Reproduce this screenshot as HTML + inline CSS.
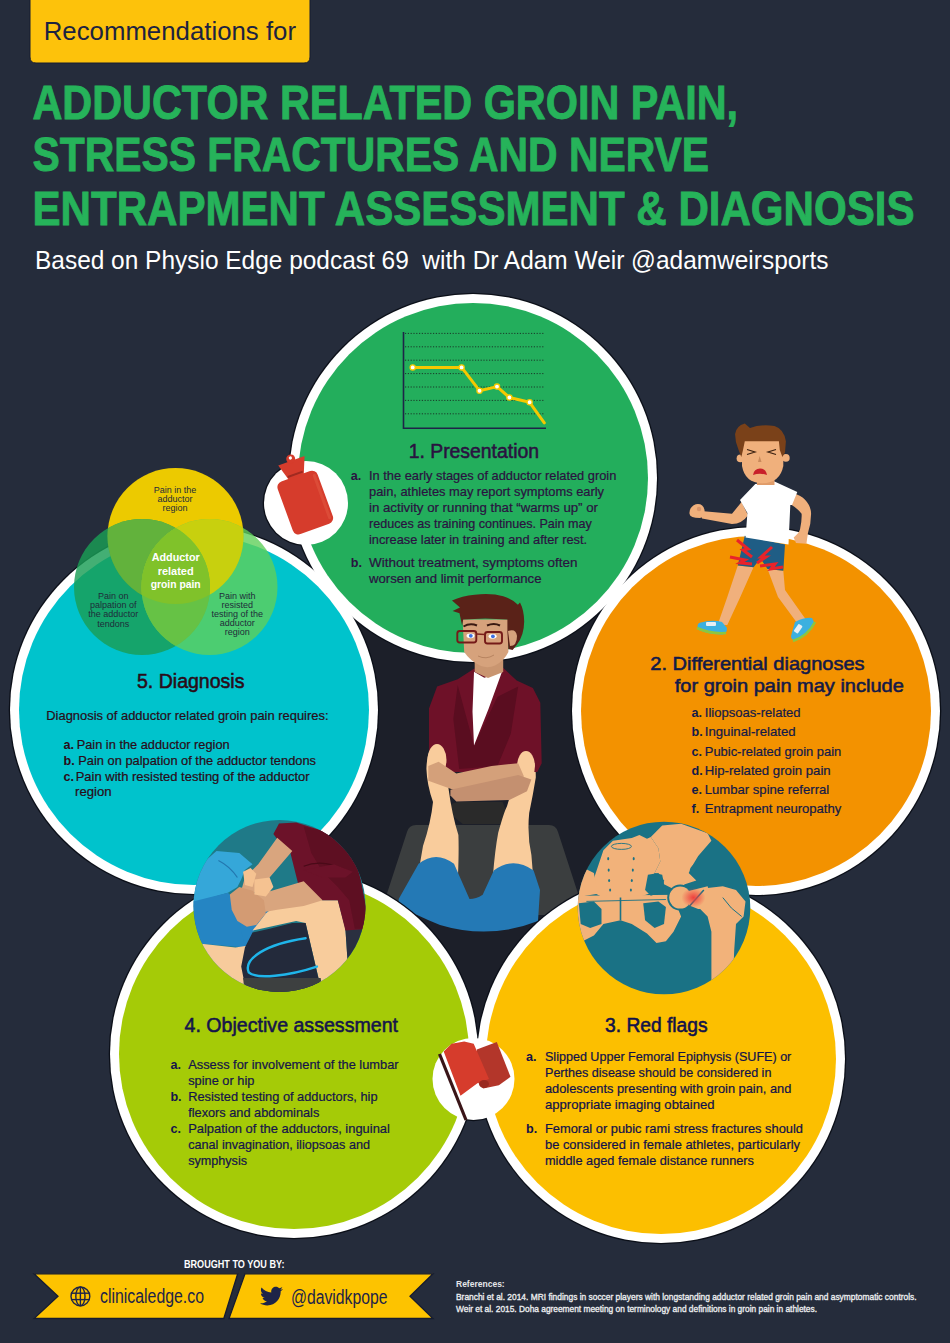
<!DOCTYPE html>
<html><head><meta charset="utf-8">
<style>
html,body{margin:0;padding:0;background:#252c3b;}
body{width:950px;height:1343px;overflow:hidden;}
svg{display:block;font-family:"Liberation Sans", sans-serif;}
</style></head><body>
<svg width="950" height="1343" viewBox="0 0 950 1343">
<rect x="0" y="0" width="950" height="1343" fill="#252c3b"/>
<polygon points="473,478 756,711 661,1059 294,1054 194,710" fill="#1c1f29"/>
<path d="M416,825 H549 Q556,825 558,832 L585,915 H380 L407,832 Q409,825 416,825 Z" fill="#3b3e3f"/><polygon points="450.7,804.1 458.4,801.9 502.6,801.9 507.0,813.0 500.4,824.0 462.8,824.0 451.8,815.2" fill="#2a2a2a"/><path d="M436.3,744.4 Q427,748 426.4,768.7 Q427,785 433,801.9 Q431,822 423,846.1 L418,875 L458,875 Q459,850 458.4,835 Q452,815 448.5,788.6 Q448,760 445.2,748.8 Q441,743 436.3,744.4 Z" fill="#f9cc9c"/><path d="M527,752.2 Q536,758 535.8,777.6 Q533,795 529.2,813 Q527,835 531.4,855 L533,875 L493,875 Q495,850 498.2,832.8 Q504,812 507,806.3 Q514,784 516,765 Q520,752 527,752.2 Z" fill="#f9cc9c"/><path d="M398.7,899 L418.6,863.8 Q436,850 454,863.8 L469.5,899 Q476,899 482.7,894.7 L493.8,870.4 Q513,856 533.6,870.4 L540,890 L538,921 Q490,940 440,925 Q415,915 398.7,905 Z" fill="#2479b5"/><circle cx="473" cy="478" r="185.3" fill="#0b0f18"/>
<circle cx="756" cy="711" r="185.3" fill="#0b0f18"/>
<circle cx="661" cy="1059" r="185.3" fill="#0b0f18"/>
<circle cx="294" cy="1054" r="185.3" fill="#0b0f18"/>
<circle cx="194" cy="710" r="185.3" fill="#0b0f18"/>
<circle cx="306" cy="503" r="43.3" fill="#0b0f18"/><circle cx="473.5" cy="1079" r="42.3" fill="#0b0f18"/><circle cx="473" cy="478" r="184" fill="#ffffff"/>
<circle cx="756" cy="711" r="184" fill="#ffffff"/>
<circle cx="661" cy="1059" r="184" fill="#ffffff"/>
<circle cx="294" cy="1054" r="184" fill="#ffffff"/>
<circle cx="194" cy="710" r="184" fill="#ffffff"/>
<circle cx="473" cy="478" r="175" fill="#23ae5c"/>
<circle cx="756" cy="711" r="175" fill="#f39200"/>
<circle cx="661" cy="1059" r="175" fill="#fcbf00"/>
<circle cx="294" cy="1054" r="175" fill="#a5cb07"/>
<circle cx="194" cy="710" r="175" fill="#00c3cc"/>
<g id="chart"><line x1="405" y1="333.4" x2="545" y2="333.4" stroke="#1b3a2a" stroke-width="1" stroke-dasharray="1.2 1.6"/><line x1="405" y1="346.8" x2="545" y2="346.8" stroke="#1b3a2a" stroke-width="1" stroke-dasharray="1.2 1.6"/><line x1="405" y1="360.2" x2="545" y2="360.2" stroke="#1b3a2a" stroke-width="1" stroke-dasharray="1.2 1.6"/><line x1="405" y1="373.6" x2="545" y2="373.6" stroke="#1b3a2a" stroke-width="1" stroke-dasharray="1.2 1.6"/><line x1="405" y1="387" x2="545" y2="387" stroke="#1b3a2a" stroke-width="1" stroke-dasharray="1.2 1.6"/><line x1="405" y1="400.4" x2="545" y2="400.4" stroke="#1b3a2a" stroke-width="1" stroke-dasharray="1.2 1.6"/><line x1="405" y1="413.8" x2="545" y2="413.8" stroke="#1b3a2a" stroke-width="1" stroke-dasharray="1.2 1.6"/><line x1="403.5" y1="332" x2="403.5" y2="429" stroke="#1e2448" stroke-width="1.6"/><line x1="403" y1="428.2" x2="546" y2="428.2" stroke="#1e2448" stroke-width="1.6"/><polyline points="412.7,367.4 461.6,367.4 479.5,390.7 497,386.6 509.4,397.5 529.6,402.3 544.3,422.9" fill="none" stroke="#f5c800" stroke-width="3" stroke-linejoin="round" stroke-linecap="round"/><circle cx="412.7" cy="367.4" r="2.6" fill="#ffffff" stroke="#f5c800" stroke-width="1.3"/><circle cx="461.6" cy="367.4" r="2.6" fill="#ffffff" stroke="#f5c800" stroke-width="1.3"/><circle cx="479.5" cy="390.7" r="2.6" fill="#ffffff" stroke="#f5c800" stroke-width="1.3"/><circle cx="497" cy="386.6" r="2.6" fill="#ffffff" stroke="#f5c800" stroke-width="1.3"/><circle cx="509.4" cy="397.5" r="2.6" fill="#ffffff" stroke="#f5c800" stroke-width="1.3"/><circle cx="529.6" cy="402.3" r="2.6" fill="#ffffff" stroke="#f5c800" stroke-width="1.3"/></g>
<g id="venn"><circle cx="175.5" cy="536" r="68" fill="#ecca00"/><circle cx="142" cy="587" r="68" fill="#1a9e55" fill-opacity="0.82"/><circle cx="209.5" cy="587" r="68" fill="#5fd05a" fill-opacity="0.80"/><clipPath id="cY"><circle cx="175.5" cy="536" r="68"/></clipPath><clipPath id="cL"><circle cx="142" cy="587" r="68"/></clipPath><clipPath id="cR"><circle cx="209.5" cy="587" r="68"/></clipPath><g clip-path="url(#cY)"><circle cx="142" cy="587" r="68" fill="#62b23c"/><circle cx="209.5" cy="587" r="68" fill="#c8d00e"/></g><g clip-path="url(#cL)"><g clip-path="url(#cR)"><rect x="100" y="500" width="160" height="200" fill="#66c245"/><g clip-path="url(#cY)"><rect x="100" y="500" width="160" height="200" fill="#80c22a"/></g></g></g></g>
<circle cx="306" cy="503" r="42" fill="#ffffff"/><g transform="translate(305.5,502.5) rotate(-20)"><polygon points="-8,-27 8,-27 15,-44 -13,-44" fill="#d63c2c"/><rect x="-8" y="-31" width="16" height="2" fill="#a02a20"/><circle cx="1" cy="-46" r="4.5" fill="#d63c2c"/><circle cx="1" cy="-47" r="1.6" fill="#fff"/><rect x="-21.5" y="-28" width="42.5" height="56" rx="6" fill="#d63c2c"/><rect x="16" y="-24" width="3" height="48" rx="1.5" fill="#e0553f" opacity="0.6"/></g>
<circle cx="473.5" cy="1079" r="41" fill="#ffffff"/><line x1="439.5" y1="1054" x2="466" y2="1120" stroke="#3a1518" stroke-width="3.2"/><polygon points="476.8,1049.5 496.8,1042.1 510.5,1076.8 498.9,1085.3 483.2,1088.4 478.4,1083" fill="#b3362a"/><polygon points="443.7,1051.6 451.6,1043.7 464.2,1041.6 473.7,1043.7 489,1079 477.4,1083.2 460.5,1095.8" fill="#d63c2c"/><ellipse cx="484" cy="1084" rx="5" ry="4" fill="#9a2a20"/>

<polygon points="429.0,708.6 437.1,686.5 457.7,679.2 474.0,668.8 503.4,668.1 516.7,680.6 532.9,688.0 540.3,702.7 541.7,763.2 537.3,772.0 429.0,772.0" fill="#6e1128"/><polygon points="457.7,685.0 474.0,745.5 497.5,696.8 518.2,686.5 510.8,733.7 497.5,766.0 459.2,769.0 453.3,719.0" fill="#5a0d20"/><polygon points="474.0,671.8 484.3,677.7 502.0,671.8 488.7,708.6 474.0,745.5 472.5,711.6" fill="#ffffff"/><ellipse cx="437" cy="760" rx="9.5" ry="16" fill="#f9cc9c"/><ellipse cx="526" cy="766" rx="9" ry="15" fill="#f9cc9c"/><polygon points="428.3,766.0 438.6,761.7 456.3,773.5 491.6,766.0 518.2,763.2 524.0,776.4 496.0,788.2 453.3,789.7 428.3,780.8" fill="#d4a07a"/><polygon points="450.4,789.7 518.2,775.0 531.4,779.4 527.0,791.2 509.3,800.0 456.3,801.5 450.4,795.6" fill="#c49070"/><polygon points="474.7,660.0 503.2,660.0 503.2,672.0 488.0,678.0 474.7,672.0" fill="#c99570"/><path d="M462.6,619.5 H508.4 L508.4,652 Q504,661 495,665.5 Q488,668.5 481,666 Q470,661 464.2,652 Z" fill="#d6a27c"/><path d="M452,600.5 Q462,596 474.7,594.7 Q492,593 503.2,596.3 Q512,599 517.9,604.7 L520,602.5 Q524,610 524.2,621.6 Q524,636 516.8,644.7 L512.6,650 L508.4,649 L507.4,632 L507.4,619.5 L485.3,618.4 L463.2,619.5 L462.1,625.8 L459.5,613.2 L452.6,611 L460,607.4 Z" fill="#5a2218"/><path d="M508,631 Q516,628 517,636 Q517,646 510,646 Z" fill="#d6a27c"/><path d="M463.5,626.5 Q470,622.5 477,625.5" stroke="#3a1a12" stroke-width="2" fill="none"/><path d="M487,625.5 Q494,622.5 500,625.5" stroke="#3a1a12" stroke-width="2" fill="none"/><ellipse cx="470.5" cy="635.8" rx="4" ry="2.4" fill="#fff"/><circle cx="470.8" cy="635.8" r="1.9" fill="#3d6fe0"/><ellipse cx="492.6" cy="636.3" rx="4" ry="2.4" fill="#fff"/><circle cx="492.9" cy="636.3" r="1.9" fill="#3d6fe0"/><rect x="457.3" y="631" width="19" height="11.5" rx="2.5" fill="none" stroke="#741a18" stroke-width="1.9"/><rect x="485" y="632" width="17" height="11.5" rx="2.5" fill="none" stroke="#741a18" stroke-width="1.9"/><line x1="476.3" y1="634" x2="485" y2="634.5" stroke="#7b1f1a" stroke-width="1.4"/><path d="M478,656 Q486,660 494,655" stroke="#b88460" stroke-width="1" fill="none"/>
<polygon points="737.8,565.5 753.5,567.3 739.5,598.8 727.3,625.0 717.6,625.0 727.3,597.0" fill="#f0b07c"/><polygon points="767.5,569.0 783.3,570.8 785.0,590.0 806.0,619.8 797.3,623.3 778.0,597.0" fill="#f0b07c"/><path d="M699,623 Q712,619 722,622 L727,628 Q727,634 722,634.5 Q708,634 699,630 Q696,626 699,623 Z" fill="#3bb0e0"/><path d="M697,628 Q710,634 726,633" stroke="#8dc63f" stroke-width="2.5" fill="none"/><rect x="706" y="622" width="10" height="4" rx="1" fill="#e6eef2"/><path d="M795,622 Q805,617 812,618 L815,624 Q808,634 797,640 Q791,641 791,636 Z" fill="#3bb0e0"/><path d="M815,622 Q808,636 793,641" stroke="#8dc63f" stroke-width="2.5" fill="none"/><rect x="796" y="624" width="5" height="9" rx="1" transform="rotate(35 798 628)" fill="#e6eef2"/><polygon points="744.8,535.8 785.0,544.5 783.3,570.8 767.5,569.0 760.5,558.5 753.5,567.3 737.8,565.5" fill="#1f5d85"/><path d="M741.6,502 L748,515.3 Q742,524 732,524 L702,518.4 L700,511 L703.7,511.3 L732,513.7 Z" fill="#f0b07c"/><path d="M695.8,504.2 Q703,503 704.5,510 Q705,517 700,518 Q690,518 689.5,513.7 Q689,507 695.8,504.2 Z" fill="#f0b07c"/><circle cx="699" cy="509" r="2.2" fill="#d9956a"/><path d="M792.2,493.2 Q801,495 804.8,499.5 Q811,506 811.1,513.7 Q811,524 808,532.7 L806.4,543.7 L796,543 L793.7,537.4 Q799,533 800,529.5 Q802,520 801.6,513.7 Q797,508 790.6,504.2 Z" fill="#f0b07c"/><polygon points="740.0,500.0 755.3,484.1 774.5,481.5 797.3,492.0 792.0,505.0 790.3,505.0 788.5,544.5 745.6,537.5 747.4,513.0" fill="#ffffff"/><polygon points="757.0,476.0 774.5,476.0 774.5,485.0 757.0,485.0" fill="#e09c6a"/><path d="M742,441 H783.3 V466 Q780,483 762.3,483.3 Q745,483 742,466 Z" fill="#f0b07c"/><circle cx="740.4" cy="458.4" r="3.8" fill="#f0b07c"/><circle cx="785.9" cy="457.9" r="3.8" fill="#f0b07c"/><path d="M735.1,434 Q736,426 744.8,423.5 L750,428.1 Q760,424 774.5,426 Q784,429 785.9,441.3 L785,452.6 L782.4,457 L779.8,450 L778.9,441.3 H744.8 L743,450 L741.3,457 L738.6,450 Q735,442 735.1,434 Z" fill="#7a4119"/><path d="M747,449.5 L755,452 L747,454.5 M776,449.5 L768,452 L776,454.5" stroke="#3a2010" stroke-width="1.2" fill="none"/><path d="M753,475 Q754,468.5 760,468.5 Q766,468.5 767,475 Q760,472.5 753,475 Z" fill="#c8202a"/><path d="M759.6,456 L761.5,462 L758,462 Z" fill="#c98a5c"/><path d="M737,540 L748,549 L743,550 L752,557" stroke="#e8232a" stroke-width="3" fill="none" stroke-linejoin="miter"/><path d="M730,557 L745,560 L740,563 L752,564" stroke="#e8232a" stroke-width="3" fill="none" stroke-linejoin="miter"/><path d="M772,547 L761,557 L766,557 L757,563" stroke="#e8232a" stroke-width="3" fill="none" stroke-linejoin="miter"/><path d="M760,566 L775,564 L771,569 L783,567" stroke="#e8232a" stroke-width="3" fill="none" stroke-linejoin="miter"/>
<clipPath id="cMs"><circle cx="279.5" cy="906" r="86"/></clipPath><g clip-path="url(#cMs)"><rect x="190" y="815" width="180" height="180" fill="#1f7a88"/><path d="M190.0,896.5 L201.4,864.3 L216.5,851.0 L239.3,852.9 L252.5,864.3 L244.9,869.9 L241.2,879.4 L237.4,887.0 L227.9,892.7 L190.0,904.0 Z" fill="#35a7d9"/><path d="M218.4,860.5 Q229.8,866.2 237.4,877.5" stroke="#2378b0" stroke-width="1.3" fill="none"/><path d="M190.0,902.2 L227.9,892.7 L233.6,898.4 L239.3,921.1 L250.6,932.5 L258.2,938.2 L250.6,945.7 L244.9,947.6 L201.4,943.8 L190.0,936.3 Z" fill="#2585c3"/><path d="M233.6,898.4 L252.5,894.6 L269.6,913.5 L252.5,932.5 L244.9,947.6 L239.3,921.1 Z" fill="#2585c3"/><path d="M190.0,938.2 L201.4,943.8 L235.5,947.6 L246.8,945.7 L252.5,966.6 L254.4,995.0 L190.0,995.0 Z" fill="#f7cb9c"/><path d="M252.5,930.6 L296.1,921.1 L305.6,923.0 L311.3,947.6 L322.6,995.0 L352.9,995.0 L347.3,957.1 L345.4,928.7 L337.8,900.3 L322.6,900.3 L303.7,896.5 L277.2,904.0 L265.8,913.5 Z" fill="#f8cc9c"/><path d="M244.9,947.6 L252.5,932.5 L269.6,928.7 L292.3,923.0 L305.6,923.0 L311.3,947.6 L318.8,979.8 L322.6,995.0 L246.8,995.0 L241.2,966.6 Z" fill="#232a3b"/><path d="M243.1,977.9 L320.7,977.9 L322.6,995.0 L244.9,995.0 Z" fill="#3d4040"/><path d="M345.4,928.7 L370.0,928.7 L370.0,995.0 L351.0,995.0 L347.3,957.1 Z" fill="#2a3040"/><path d="M305.6,938.2 C265.8,943.8 243.1,959.0 248.7,972.3 C256.3,979.8 288.5,976.0 316.9,966.6" stroke="#1fb5ea" stroke-width="2.4" fill="none" stroke-linecap="round"/><path d="M273.4,833.9 L279.0,823.5 L296.1,822.6 L326.4,832.1 L354.8,858.6 L360.5,879.4 L370.0,928.7 L345.4,930.6 L337.8,900.3 L322.6,900.3 L303.7,896.5 L298.0,883.2 L290.4,852.9 L279.0,841.5 Z" fill="#6c1229"/><path d="M303.7,826.4 L326.4,832.1 L354.8,858.6 L360.5,879.4 L370.0,928.7 L354.8,928.7 L349.2,900.3 L337.8,887.0 L322.6,871.8 L311.3,852.9 Z" fill="#5e0f22"/><path d="M303.7,866.2 Q322.6,858.6 345.4,869.9" stroke="#4a0a18" stroke-width="1.2" fill="none"/><path d="M303.7,869.9 L334.0,864.3 L352.9,871.8 L345.4,877.5 L322.6,877.5 Z" fill="#6c1229"/><path d="M252.5,896.5 L303.7,881.3 L322.6,900.3 L303.7,905.9 L277.2,909.7 L256.3,913.5 L246.8,909.7 Z" fill="#d9a57e"/><path d="M277.2,837.7 L292.3,851.0 L269.6,877.5 L252.5,894.6 L241.2,890.8 L244.9,877.5 L258.2,864.3 Z" fill="#d9a57e"/><path d="M229.8,894.6 L239.3,887.0 L252.5,890.8 L263.9,900.3 L265.8,913.5 L256.3,924.9 L246.8,926.8 L237.4,921.1 L231.7,909.7 Z" fill="#d39b73"/><path d="M243.1,871.8 L250.6,868.1 L256.3,873.7 L252.5,887.0 L244.9,885.1 Z" fill="#f5c291"/><path d="M254.4,879.4 L269.6,877.5 L273.4,887.0 L265.8,896.5 L254.4,894.6 Z" fill="#f5c291"/></g>
<clipPath id="cPv"><circle cx="664" cy="908" r="86.3"/></clipPath><g clip-path="url(#cPv)"><rect x="575" y="818" width="180" height="180" fill="#1a7285"/><path d="M650.8,836.9 L662.2,825.6 L681.1,823.7 L707.6,833.2 L711.4,840.7 L698.2,855.9 L692.5,865.4 L688.7,872.9 L696.3,880.5 L684.9,884.3 L675.4,890.0 L664.0,884.3 L662.2,874.8 L654.6,872.9 L660.3,861.6 L658.4,848.3 Z" fill="#f2b27a"/><path d="M593.9,878.6 L603.4,850.2 L612.9,840.7 L631.8,837.9 L639.4,835.1 L647.0,838.8 L650.8,836.9 L658.4,848.3 L660.3,861.6 L654.6,872.9 L650.8,880.5 L648.9,893.8 L637.5,897.6 L603.4,897.6 L595.8,893.8 Z" fill="#f2b27a"/><path d="M575.0,878.6 L586.4,869.2 L593.9,872.9 L597.7,893.8 L575.0,897.6 Z" fill="#f2b27a"/><path d="M575.0,895.7 L681.1,894.7 L677.3,907.0 L681.1,916.5 L673.5,931.7 L665.9,941.2 L656.5,943.0 L647.0,933.6 L631.8,924.1 L620.5,920.3 L603.4,924.1 L593.9,935.5 L582.6,941.2 L575.0,939.3 Z" fill="#f2b27a"/><path d="M647.9,874.8 L658.4,872.9 L664.0,880.5 L662.2,891.9 L650.8,895.7 L645.1,890.0 Z" fill="#1a7285"/><path d="M578.8,903.3 L593.9,901.4 L601.5,908.9 L601.5,924.1 L590.2,927.9 L580.7,924.1 Z" fill="#1a7285"/><path d="M643.2,903.3 L658.4,901.4 L665.9,907.0 L664.0,924.1 L654.6,927.9 L645.1,920.3 Z" fill="#1a7285"/><line x1="620.5" y1="897.6" x2="620.5" y2="920.3" stroke="#1a7285" stroke-width="1.6"/><line x1="586.4" y1="901.4" x2="665.9" y2="899.5" stroke="#1a7285" stroke-width="0.9"/><circle cx="680.2" cy="897.6" r="13" fill="#1a7285"/><circle cx="680.2" cy="897.6" r="11" fill="#f2b27a"/><path d="M688.7,890.9 L707.6,886.2 L713.3,908.9 L698.2,908.9 L688.7,905.2 Z" fill="#f2b27a"/><path d="M692.5,893.8 L707.6,888.1 L722.8,886.2 L736.0,890.0 L745.5,901.4 L743.6,916.5 L736.0,924.1 L734.2,950.6 L732.3,998.0 L711.4,998.0 L711.4,931.7 L707.6,916.5 L698.2,907.0 L688.7,905.2 Z" fill="#f2b27a"/><path d="M722.8,897.6 Q730.4,908.9 741.7,916.5" stroke="#1a7285" stroke-width="1" fill="none"/><line x1="703.8" y1="890.0" x2="688.7" y2="907.0" stroke="#1a7285" stroke-width="1.5"/><path d="M696.3,863.5 Q686.8,869.2 692.5,874.8" stroke="#1a7285" stroke-width="1.2" fill="none"/><ellipse cx="621.4" cy="846.4" rx="10" ry="3" fill="none" stroke="#1a7285" stroke-width="0.9"/><radialGradient id="gRed"><stop offset="0" stop-color="#ee3b3b" stop-opacity="0.95"/><stop offset="1" stop-color="#ee3b3b" stop-opacity="0"/></radialGradient><ellipse cx="693.4" cy="897.6" rx="12" ry="10" fill="url(#gRed)"/><ellipse cx="608.2" cy="858.7" rx="1" ry="1.6" fill="#1a7285"/><ellipse cx="633.7" cy="858.7" rx="1" ry="1.6" fill="#1a7285"/><ellipse cx="608.7" cy="870.1" rx="1" ry="1.6" fill="#1a7285"/><ellipse cx="632.8" cy="870.1" rx="1" ry="1.6" fill="#1a7285"/><ellipse cx="609.1" cy="880.5" rx="1" ry="1.6" fill="#1a7285"/><ellipse cx="631.8" cy="880.5" rx="1" ry="1.6" fill="#1a7285"/><ellipse cx="610.1" cy="890.0" rx="1" ry="1.6" fill="#1a7285"/><ellipse cx="630.9" cy="890.0" rx="1" ry="1.6" fill="#1a7285"/></g>
<path d="M30,-3 H310 V57 Q310,63 304,63 H36 Q30,63 30,57 Z" fill="#fdc20b" stroke="#161c30" stroke-width="1"/>
<polygon points="34,1273.8 237.7,1273.8 223.8,1318.5 34,1318.5 58,1296.2" fill="#fdc300" stroke="#161c30" stroke-width="1.3"/>
<polygon points="245,1273.8 433,1273.8 410,1296.2 433,1318.5 229,1318.5" fill="#fdc300" stroke="#161c30" stroke-width="1.3"/>
<g fill="none" stroke="#1e2448" stroke-width="1.4"><circle cx="80.4" cy="1296.4" r="9.4"/><ellipse cx="80.4" cy="1296.4" rx="4.6" ry="9.4"/><line x1="80.4" y1="1287" x2="80.4" y2="1305.8"/><line x1="71.5" y1="1293.2" x2="89.3" y2="1293.2"/><line x1="71.5" y1="1299.6" x2="89.3" y2="1299.6"/></g><g transform="translate(260,1284.5) scale(0.96)"><path fill="#1e2448" d="M23.954 4.569c-.885.389-1.83.654-2.825.775 1.014-.611 1.794-1.574 2.163-2.723-.951.555-2.005.959-3.127 1.184-.896-.959-2.173-1.559-3.591-1.559-2.717 0-4.92 2.203-4.917 4.917 0 .39.045.765.127 1.124C7.691 8.094 4.066 6.13 1.64 3.161c-.427.722-.666 1.561-.666 2.475 0 1.71.87 3.213 2.188 4.096-.807-.026-1.566-.248-2.228-.616v.061c0 2.385 1.693 4.374 3.946 4.827-.413.111-.849.171-1.296.171-.314 0-.615-.03-.916-.086.631 1.953 2.445 3.377 4.604 3.417-1.68 1.319-3.809 2.105-6.102 2.105-.39 0-.779-.023-1.17-.067 2.189 1.394 4.768 2.209 7.557 2.209 9.054 0 13.999-7.496 13.999-13.986 0-.209 0-.42-.015-.63.961-.689 1.8-1.56 2.46-2.548l-.047-.02z"/></g>
<g>
<text x="43.7" y="40" font-size="25" fill="#1c2340" font-weight="normal" text-anchor="start" textLength="252.3" lengthAdjust="spacingAndGlyphs">Recommendations for</text>
<text x="32.5" y="119" font-size="47.5" fill="#26b35a" font-weight="bold" text-anchor="start" textLength="705.5" lengthAdjust="spacingAndGlyphs" stroke="#26b35a" stroke-width="0.9">ADDUCTOR RELATED GROIN PAIN,</text>
<text x="32.5" y="171" font-size="47.5" fill="#26b35a" font-weight="bold" text-anchor="start" textLength="676.5" lengthAdjust="spacingAndGlyphs" stroke="#26b35a" stroke-width="0.9">STRESS FRACTURES AND NERVE</text>
<text x="32.5" y="224.5" font-size="47.5" fill="#26b35a" font-weight="bold" text-anchor="start" textLength="882.0" lengthAdjust="spacingAndGlyphs" stroke="#26b35a" stroke-width="0.9">ENTRAPMENT ASSESSMENT &amp; DIAGNOSIS</text>
<text x="35" y="268.5" font-size="26" fill="#ffffff" font-weight="normal" text-anchor="start" textLength="793.5" lengthAdjust="spacingAndGlyphs" style="white-space:pre">Based on Physio Edge podcast 69  with Dr Adam Weir @adamweirsports</text>
<text x="408.7" y="458" font-size="20" fill="#2a1240" font-weight="normal" text-anchor="start" textLength="130.3" lengthAdjust="spacingAndGlyphs" stroke="#2a1240" stroke-width="0.55">1. Presentation</text>
<text x="350.7" y="480.4" font-size="12.6" fill="#2a1240" font-weight="bold" text-anchor="start">a.</text>
<text x="369" y="480.4" font-size="12.6" fill="#2a1240" font-weight="normal" text-anchor="start" textLength="247.3" lengthAdjust="spacingAndGlyphs" stroke="#2a1240" stroke-width="0.22">In the early stages of adductor related groin</text>
<text x="369" y="496.2" font-size="12.6" fill="#2a1240" font-weight="normal" text-anchor="start" textLength="235.0" lengthAdjust="spacingAndGlyphs" stroke="#2a1240" stroke-width="0.22">pain, athletes may report symptoms early</text>
<text x="369" y="512.0" font-size="12.6" fill="#2a1240" font-weight="normal" text-anchor="start" textLength="229.0" lengthAdjust="spacingAndGlyphs" stroke="#2a1240" stroke-width="0.22">in activity or running that “warms up” or</text>
<text x="369" y="527.8" font-size="12.6" fill="#2a1240" font-weight="normal" text-anchor="start" textLength="222.8" lengthAdjust="spacingAndGlyphs" stroke="#2a1240" stroke-width="0.22">reduces as training continues. Pain may</text>
<text x="369" y="543.6" font-size="12.6" fill="#2a1240" font-weight="normal" text-anchor="start" textLength="218.0" lengthAdjust="spacingAndGlyphs" stroke="#2a1240" stroke-width="0.22">increase later in training and after rest.</text>
<text x="350.7" y="567.4" font-size="12.6" fill="#2a1240" font-weight="bold" text-anchor="start">b.</text>
<text x="369" y="567.4" font-size="12.6" fill="#2a1240" font-weight="normal" text-anchor="start" textLength="208.5" lengthAdjust="spacingAndGlyphs" stroke="#2a1240" stroke-width="0.22">Without treatment, symptoms often</text>
<text x="369" y="583.2" font-size="12.6" fill="#2a1240" font-weight="normal" text-anchor="start" textLength="172.5" lengthAdjust="spacingAndGlyphs" stroke="#2a1240" stroke-width="0.22">worsen and limit performance</text>
<text x="137" y="687.7" font-size="19.5" fill="#2a0c18" font-weight="normal" text-anchor="start" textLength="107.4" lengthAdjust="spacingAndGlyphs" stroke="#2a0c18" stroke-width="0.55">5. Diagnosis</text>
<text x="46.3" y="720.4" font-size="12.6" fill="#2a0c18" font-weight="normal" text-anchor="start" textLength="282.2" lengthAdjust="spacingAndGlyphs" stroke="#2a0c18" stroke-width="0.22">Diagnosis of adductor related groin pain requires:</text>
<text x="63.6" y="749" font-size="12.6" fill="#2a0c18" font-weight="bold" text-anchor="start">a.</text>
<text x="76.7" y="749" font-size="12.6" fill="#2a0c18" font-weight="normal" text-anchor="start" textLength="153.0" lengthAdjust="spacingAndGlyphs" stroke="#2a0c18" stroke-width="0.22">Pain in the adductor region</text>
<text x="63.6" y="765" font-size="12.6" fill="#2a0c18" font-weight="bold" text-anchor="start">b.</text>
<text x="78.3" y="765" font-size="12.6" fill="#2a0c18" font-weight="normal" text-anchor="start" textLength="237.7" lengthAdjust="spacingAndGlyphs" stroke="#2a0c18" stroke-width="0.22">Pain on palpation of the adductor tendons</text>
<text x="63.6" y="780.7" font-size="12.6" fill="#2a0c18" font-weight="bold" text-anchor="start">c.</text>
<text x="75.7" y="780.7" font-size="12.6" fill="#2a0c18" font-weight="normal" text-anchor="start" textLength="233.9" lengthAdjust="spacingAndGlyphs" stroke="#2a0c18" stroke-width="0.22">Pain with resisted testing of the adductor</text>
<text x="75" y="796.4" font-size="12.6" fill="#2a0c18" font-weight="normal" text-anchor="start" textLength="36.6" lengthAdjust="spacingAndGlyphs" stroke="#2a0c18" stroke-width="0.22">region</text>
<text x="650.3" y="670" font-size="18.5" fill="#131a48" font-weight="normal" text-anchor="start" textLength="214.3" lengthAdjust="spacingAndGlyphs" stroke="#131a48" stroke-width="0.55">2. Differential diagnoses</text>
<text x="674.8" y="692.2" font-size="18.5" fill="#131a48" font-weight="normal" text-anchor="start" textLength="229.0" lengthAdjust="spacingAndGlyphs" stroke="#131a48" stroke-width="0.55">for groin pain may include</text>
<text x="691.6" y="717.2" font-size="12.6" fill="#131a48" font-weight="bold" text-anchor="start">a.</text>
<text x="704.8" y="717.2" font-size="12.6" fill="#131a48" font-weight="normal" text-anchor="start" textLength="95.8" lengthAdjust="spacingAndGlyphs" stroke="#131a48" stroke-width="0.22">Iliopsoas-related</text>
<text x="691.6" y="736.36" font-size="12.6" fill="#131a48" font-weight="bold" text-anchor="start">b.</text>
<text x="704.8" y="736.36" font-size="12.6" fill="#131a48" font-weight="normal" text-anchor="start" textLength="90.8" lengthAdjust="spacingAndGlyphs" stroke="#131a48" stroke-width="0.22">Inguinal-related</text>
<text x="691.6" y="755.5200000000001" font-size="12.6" fill="#131a48" font-weight="bold" text-anchor="start">c.</text>
<text x="704.8" y="755.5200000000001" font-size="12.6" fill="#131a48" font-weight="normal" text-anchor="start" textLength="136.5" lengthAdjust="spacingAndGlyphs" stroke="#131a48" stroke-width="0.22">Pubic-related groin pain</text>
<text x="691.6" y="774.6800000000001" font-size="12.6" fill="#131a48" font-weight="bold" text-anchor="start">d.</text>
<text x="704.8" y="774.6800000000001" font-size="12.6" fill="#131a48" font-weight="normal" text-anchor="start" textLength="125.9" lengthAdjust="spacingAndGlyphs" stroke="#131a48" stroke-width="0.22">Hip-related groin pain</text>
<text x="691.6" y="793.84" font-size="12.6" fill="#131a48" font-weight="bold" text-anchor="start">e.</text>
<text x="704.8" y="793.84" font-size="12.6" fill="#131a48" font-weight="normal" text-anchor="start" textLength="124.4" lengthAdjust="spacingAndGlyphs" stroke="#131a48" stroke-width="0.22">Lumbar spine referral</text>
<text x="691.6" y="813.0" font-size="12.6" fill="#131a48" font-weight="bold" text-anchor="start">f.</text>
<text x="704.8" y="813.0" font-size="12.6" fill="#131a48" font-weight="normal" text-anchor="start" textLength="136.5" lengthAdjust="spacingAndGlyphs" stroke="#131a48" stroke-width="0.22">Entrapment neuropathy</text>
<text x="184.6" y="1031.5" font-size="20" fill="#15154a" font-weight="normal" text-anchor="start" textLength="213.4" lengthAdjust="spacingAndGlyphs" stroke="#15154a" stroke-width="0.55">4. Objective assessment</text>
<text x="170.4" y="1069.3" font-size="12.6" fill="#15154a" font-weight="bold" text-anchor="start">a.</text>
<text x="188.2" y="1069.3" font-size="12.6" fill="#15154a" font-weight="normal" text-anchor="start" textLength="210.4" lengthAdjust="spacingAndGlyphs" stroke="#15154a" stroke-width="0.22">Assess for involvement of the lumbar</text>
<text x="188.2" y="1085.1699999999998" font-size="12.6" fill="#15154a" font-weight="normal" text-anchor="start" textLength="66.2" lengthAdjust="spacingAndGlyphs" stroke="#15154a" stroke-width="0.22">spine or hip</text>
<text x="170.4" y="1101.04" font-size="12.6" fill="#15154a" font-weight="bold" text-anchor="start">b.</text>
<text x="188.2" y="1101.04" font-size="12.6" fill="#15154a" font-weight="normal" text-anchor="start" textLength="189.4" lengthAdjust="spacingAndGlyphs" stroke="#15154a" stroke-width="0.22">Resisted testing of adductors, hip</text>
<text x="188.2" y="1116.9099999999999" font-size="12.6" fill="#15154a" font-weight="normal" text-anchor="start" textLength="131.1" lengthAdjust="spacingAndGlyphs" stroke="#15154a" stroke-width="0.22">flexors and abdominals</text>
<text x="170.4" y="1132.78" font-size="12.6" fill="#15154a" font-weight="bold" text-anchor="start">c.</text>
<text x="188.2" y="1132.78" font-size="12.6" fill="#15154a" font-weight="normal" text-anchor="start" textLength="201.7" lengthAdjust="spacingAndGlyphs" stroke="#15154a" stroke-width="0.22">Palpation of the adductors, inguinal</text>
<text x="188.2" y="1148.6499999999999" font-size="12.6" fill="#15154a" font-weight="normal" text-anchor="start" textLength="181.8" lengthAdjust="spacingAndGlyphs" stroke="#15154a" stroke-width="0.22">canal invagination, iliopsoas and</text>
<text x="188.2" y="1164.52" font-size="12.6" fill="#15154a" font-weight="normal" text-anchor="start" textLength="58.8" lengthAdjust="spacingAndGlyphs" stroke="#15154a" stroke-width="0.22">symphysis</text>
<text x="605" y="1031.8" font-size="20" fill="#12124a" font-weight="normal" text-anchor="start" textLength="102.6" lengthAdjust="spacingAndGlyphs" stroke="#12124a" stroke-width="0.55">3. Red flags</text>
<text x="526" y="1061.2" font-size="12.6" fill="#12124a" font-weight="bold" text-anchor="start">a.</text>
<text x="545" y="1061.2" font-size="12.6" fill="#12124a" font-weight="normal" text-anchor="start" textLength="246.3" lengthAdjust="spacingAndGlyphs" stroke="#12124a" stroke-width="0.22">Slipped Upper Femoral Epiphysis (SUFE) or</text>
<text x="545" y="1077.0" font-size="12.6" fill="#12124a" font-weight="normal" text-anchor="start" textLength="226.4" lengthAdjust="spacingAndGlyphs" stroke="#12124a" stroke-width="0.22">Perthes disease should be considered in</text>
<text x="545" y="1092.8" font-size="12.6" fill="#12124a" font-weight="normal" text-anchor="start" textLength="246.3" lengthAdjust="spacingAndGlyphs" stroke="#12124a" stroke-width="0.22">adolescents presenting with groin pain, and</text>
<text x="545" y="1108.6000000000001" font-size="12.6" fill="#12124a" font-weight="normal" text-anchor="start" textLength="169.6" lengthAdjust="spacingAndGlyphs" stroke="#12124a" stroke-width="0.22">appropriate imaging obtained</text>
<text x="526" y="1132.9" font-size="12.6" fill="#12124a" font-weight="bold" text-anchor="start">b.</text>
<text x="545" y="1132.9" font-size="12.6" fill="#12124a" font-weight="normal" text-anchor="start" textLength="258.0" lengthAdjust="spacingAndGlyphs" stroke="#12124a" stroke-width="0.22">Femoral or pubic rami stress fractures should</text>
<text x="545" y="1148.7" font-size="12.6" fill="#12124a" font-weight="normal" text-anchor="start" textLength="255.0" lengthAdjust="spacingAndGlyphs" stroke="#12124a" stroke-width="0.22">be considered in female athletes, particularly</text>
<text x="545" y="1164.5" font-size="12.6" fill="#12124a" font-weight="normal" text-anchor="start" textLength="209.0" lengthAdjust="spacingAndGlyphs" stroke="#12124a" stroke-width="0.22">middle aged female distance runners</text>
<text x="175" y="493.2" font-size="9" fill="#1f2d3a" font-weight="normal" text-anchor="middle">Pain in the</text>
<text x="175" y="502.25" font-size="9" fill="#1f2d3a" font-weight="normal" text-anchor="middle">adductor</text>
<text x="175" y="511.3" font-size="9" fill="#1f2d3a" font-weight="normal" text-anchor="middle">region</text>
<text x="151.7" y="561.0" font-size="11.5" fill="#ffffff" font-weight="bold" text-anchor="start" textLength="48.0" lengthAdjust="spacingAndGlyphs">Adductor</text>
<text x="157.7" y="574.65" font-size="11.5" fill="#ffffff" font-weight="bold" text-anchor="start" textLength="36.0" lengthAdjust="spacingAndGlyphs">related</text>
<text x="150.7" y="588.3" font-size="11.5" fill="#ffffff" font-weight="bold" text-anchor="start" textLength="50.0" lengthAdjust="spacingAndGlyphs">groin pain</text>
<text x="113.3" y="599.2" font-size="9" fill="#1f2d3a" font-weight="normal" text-anchor="middle">Pain on</text>
<text x="113.3" y="608.33" font-size="9" fill="#1f2d3a" font-weight="normal" text-anchor="middle">palpation of</text>
<text x="113.3" y="617.46" font-size="9" fill="#1f2d3a" font-weight="normal" text-anchor="middle">the adductor</text>
<text x="113.3" y="626.59" font-size="9" fill="#1f2d3a" font-weight="normal" text-anchor="middle">tendons</text>
<text x="237.2" y="599.2" font-size="9" fill="#1f2d3a" font-weight="normal" text-anchor="middle">Pain with</text>
<text x="237.2" y="608.1" font-size="9" fill="#1f2d3a" font-weight="normal" text-anchor="middle">resisted</text>
<text x="237.2" y="617.0" font-size="9" fill="#1f2d3a" font-weight="normal" text-anchor="middle">testing of the</text>
<text x="237.2" y="625.9000000000001" font-size="9" fill="#1f2d3a" font-weight="normal" text-anchor="middle">adductor</text>
<text x="237.2" y="634.8000000000001" font-size="9" fill="#1f2d3a" font-weight="normal" text-anchor="middle">region</text>
<text x="184" y="1267.7" font-size="10" fill="#ffffff" font-weight="bold" text-anchor="start" textLength="100.4" lengthAdjust="spacingAndGlyphs">BROUGHT TO YOU BY:</text>
<text x="100" y="1303" font-size="20" fill="#1e2448" font-weight="normal" text-anchor="start" textLength="104.0" lengthAdjust="spacingAndGlyphs">clinicaledge.co</text>
<text x="291" y="1304" font-size="20" fill="#1e2448" font-weight="normal" text-anchor="start" textLength="96.5" lengthAdjust="spacingAndGlyphs">@davidkpope</text>
<text x="456" y="1287" font-size="9.5" fill="#e6e7ea" font-weight="bold" text-anchor="start" textLength="48.7" lengthAdjust="spacingAndGlyphs">References:</text>
<text x="456" y="1300" font-size="9.5" fill="#eceef0" font-weight="normal" text-anchor="start" textLength="460.6" lengthAdjust="spacingAndGlyphs" stroke="#eceef0" stroke-width="0.35">Branchi et al. 2014. MRI findings in soccer players with longstanding adductor related groin pain and asymptomatic controls.</text>
<text x="456" y="1312.4" font-size="9.5" fill="#eceef0" font-weight="normal" text-anchor="start" textLength="361.0" lengthAdjust="spacingAndGlyphs" stroke="#eceef0" stroke-width="0.35">Weir et al. 2015. Doha agreement meeting on terminology and definitions in groin pain in athletes.</text>

</g>
</svg>
</body></html>
